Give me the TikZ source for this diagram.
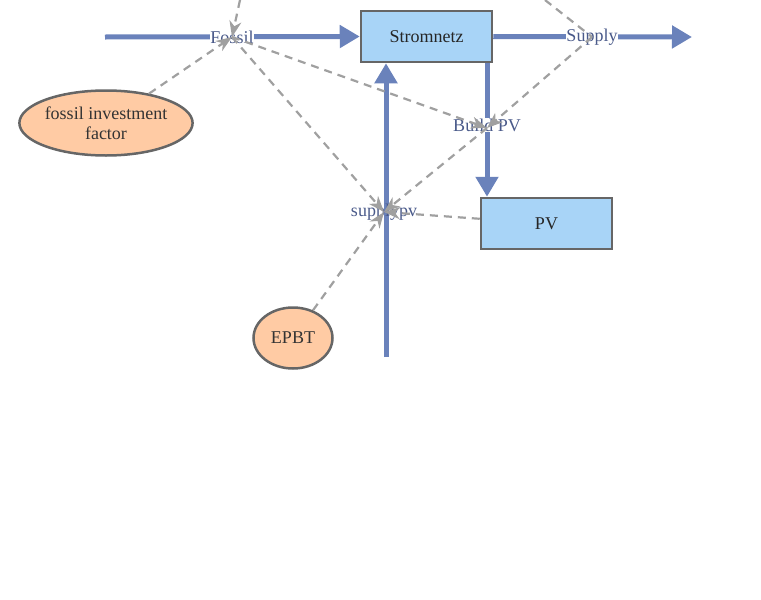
\documentclass[tikz,border=0pt]{standalone}
\usepackage{fontspec}
\setmainfont{Liberation Serif}
\usetikzlibrary{arrows.meta,shapes.geometric}
\definecolor{flowc}{HTML}{6A82BB}
\definecolor{lblc}{HTML}{4A5A8A}
\definecolor{boxc}{HTML}{A8D4F7}
\definecolor{ellc}{HTML}{FFCBA4}
\definecolor{linkc}{HTML}{A0A0A0}
\begin{document}
\begin{tikzpicture}[x=1pt,y=-1pt,font=\fontsize{18}{20}\selectfont,
  stock/.style={draw=black!60,line width=2.5pt,fill=boxc,minimum width=131pt,minimum height=51pt,inner sep=0pt,text=black!85},
  aux/.style={ellipse,draw=black!60,line width=2.5pt,fill=ellc,inner sep=0pt,align=center,text=black!80},
  flow/.style={draw=flowc,line width=5pt,-{Triangle[length=20pt,width=22pt]}},
  valve/.style={text=lblc,inner sep=0.5pt,fill=white},
  link/.style={draw=linkc,line width=2.2pt,dash pattern=on 8pt off 6pt,-{Stealth[length=16pt,width=12pt,inset=5pt]}},
  nolink/.style={draw=linkc,line width=2.2pt,dash pattern=on 8pt off 6pt}]
\useasboundingbox (0,0) rectangle (761,600);
\node[stock] (S) at (426.5,36.5) {Stromnetz};
\node[stock] (PV) at (546.5,223.5) {PV};
\node[aux,minimum width=160pt,minimum height=65pt] (F) at (106,123) {fossil investment\\factor};
\node[aux,minimum width=79pt,minimum height=61pt] (E) at (293,338) {EPBT};
\coordinate (fs) at (105,37);
\coordinate (se) at (692,37);
\coordinate (ps) at (386,357);
\coordinate (t1) at (240,0);
\coordinate (t2) at (545,0);
\coordinate (fv) at (232,37);
\coordinate (sv) at (592,37);
\coordinate (bv) at (487,128);
\coordinate (pv) at (384,212);
% flows
\draw[flow] (fs) -- (S.west);
\draw[flow] (S.east) -- (se);
\draw[flow] (S.south -| bv) -- (PV.north -| bv);
\draw[flow] (ps) -- (S.south -| ps);
% valve labels
\node[valve] at (fv) {Fossil};
\node[valve] at (sv) {Supply};
\node[valve] at ([yshift=3pt]bv) {Build PV};
\node[valve,fill=none] at (pv) {supplypv};
% links
\draw[link] (t1) -- (fv);
\draw[link] (F) -- (fv);
\draw[link] (fv) -- (bv);
\draw[link] (fv) -- (pv);
\draw[nolink] (t2) -- (sv);
\draw[link] (sv) -- (bv);
\draw[link] (bv) -- (pv);
\draw[link] (PV) -- (pv);
\draw[link] (E) -- (pv);
\end{tikzpicture}
\end{document}
